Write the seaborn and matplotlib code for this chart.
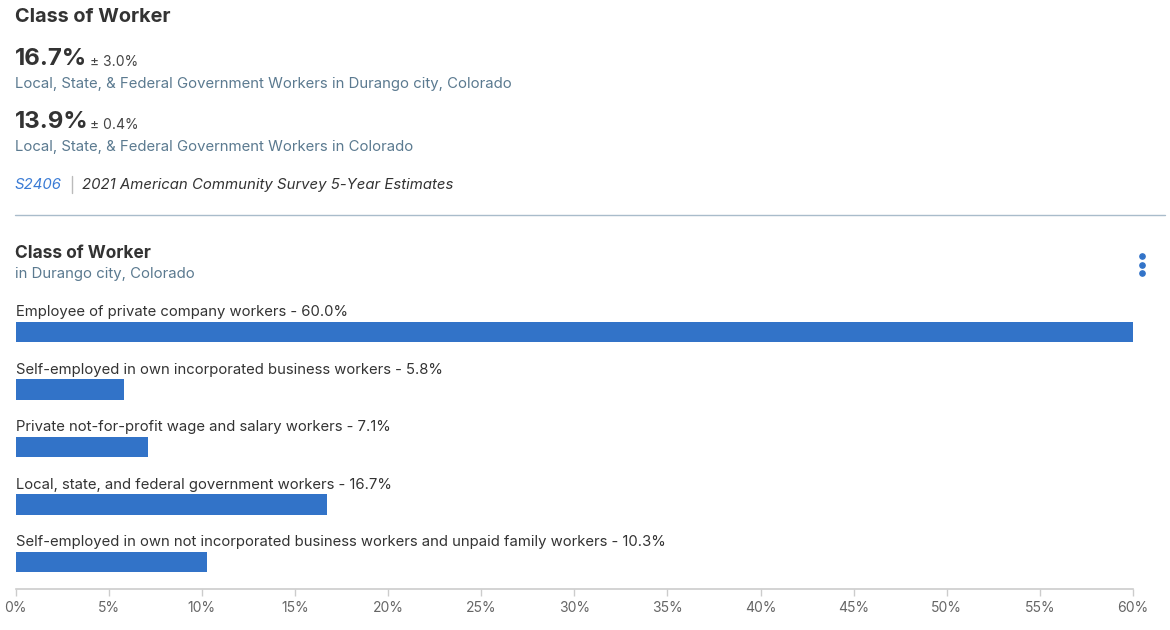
import pandas as pd
import seaborn as sns
import matplotlib.pyplot as plt
from matplotlib.lines import Line2D
from matplotlib.ticker import FuncFormatter

# data
categories = [
    "Employee of private company workers",
    "Self-employed in own incorporated business workers",
    "Private not-for-profit wage and salary workers",
    "Local, state, and federal government workers",
    "Self-employed in own not incorporated business workers and unpaid family workers",
]
values = [60.0, 5.8, 7.1, 16.7, 10.3]
ticks = [0, 5, 10, 15, 20, 25, 30, 35, 40, 45, 50, 55, 60]

df = pd.DataFrame({"cat": categories, "val": values})

sns.set_style("white")
plt.rcParams["font.family"] = ["Inter", "DejaVu Sans"]

fig = plt.figure(figsize=(11.7, 6.3), dpi=100)

dark = "#333333"
grayblue = "#5b7a90"
blue = "#3273c8"
W, H = 1170, 630

# header block
fig.text(15 / W, 1 - 17 / H, "Class of Worker", fontsize=14.3, fontweight="bold",
         color=dark, va="center")
fig.text(15 / W, 1 - 59 / H, "16.7%", fontsize=17.3, fontweight="bold", color=dark, va="center")
fig.text(90 / W, 1 - 62 / H, "± 3.0%", fontsize=10, color="#444444", va="center")
fig.text(15 / W, 1 - 84 / H, "Local, State, & Federal Government Workers in Durango city, Colorado",
         fontsize=10.75, color=grayblue, va="center")
fig.text(15 / W, 1 - 122 / H, "13.9%", fontsize=17.3, fontweight="bold", color=dark, va="center")
fig.text(90 / W, 1 - 125 / H, "± 0.4%", fontsize=10, color="#444444", va="center")
fig.text(15 / W, 1 - 147 / H, "Local, State, & Federal Government Workers in Colorado",
         fontsize=10.75, color=grayblue, va="center")
fig.text(15 / W, 1 - 185 / H, "S2406", fontsize=10.75, style="italic", color="#3a7bd5", va="center")
fig.add_artist(Line2D([72 / W, 72 / W], [1 - 176 / H, 1 - 193 / H],
                      transform=fig.transFigure, color="#bbbbbb", lw=1))
fig.text(82 / W, 1 - 185 / H, "2021 American Community Survey 5-Year Estimates",
         fontsize=10.75, style="italic", color=dark, va="center")
fig.add_artist(Line2D([15 / W, 1165 / W], [1 - 215 / H, 1 - 215 / H],
                      transform=fig.transFigure, color="#a9bccb", lw=1))

# chart header
fig.text(15 / W, 1 - 253 / H, "Class of Worker", fontsize=12.5, fontweight="bold",
         color=dark, va="center")
fig.text(15 / W, 1 - 274 / H, "in Durango city, Colorado", fontsize=10.75, color=grayblue, va="center")
fig.add_artist(Line2D([1142 / W] * 3, [1 - 256 / H, 1 - 265 / H, 1 - 273 / H],
                      transform=fig.transFigure, color=blue, marker="o", markersize=3.8,
                      linestyle="none"))

# bars
ax = fig.add_axes([15.5 / W, 1 - 589 / H, 1117.5 / W, 289 / H])
sns.barplot(data=df, x="val", y="cat", orient="h", color=blue, width=0.348,
            saturation=1, linewidth=0, ax=ax)
ax.set_xlim(0, 60)
ax.set_ylim(4 + 27 / 57.5, -32 / 57.5)
ax.set_ylabel("")
ax.set_xlabel("")
ax.set_yticks([])
ax.set_xticks(ticks)
ax.xaxis.set_major_formatter(FuncFormatter(lambda v, p: f"{v:.0f}%"))
ax.tick_params(axis="x", bottom=True, length=5, width=1, color="#cccccc",
               labelsize=10, labelcolor="#666666", pad=4)
for s in ["top", "right", "left"]:
    ax.spines[s].set_visible(False)
ax.spines["bottom"].set_color("#cccccc")
ax.spines["bottom"].set_linewidth(1.2)

for i, (c, v) in enumerate(zip(categories, values)):
    ax.text(0, i - 0.34, f"{c} - {v:.1f}%", fontsize=10.7, color=dark, va="center", ha="left")

fig.savefig("out.png", dpi=100)
